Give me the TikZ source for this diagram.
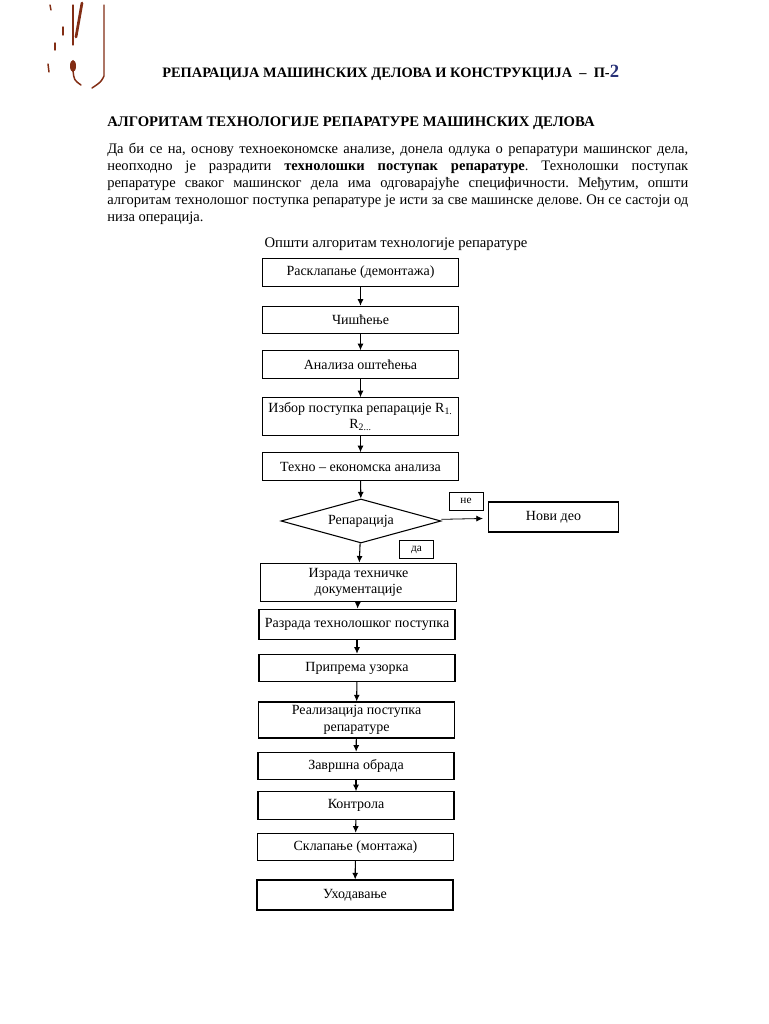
\documentclass[tikz,border=0pt]{standalone}
\usepackage{fontspec}
\setmainfont{Liberation Serif}
\usetikzlibrary{shapes.geometric,arrows.meta}
\definecolor{inkbrown}{RGB}{130,45,20}
\definecolor{penblue}{RGB}{40,50,120}

\begin{document}
\frenchspacing
\begin{tikzpicture}[x=0.75pt,y=-0.75pt,>={Latex[length=5pt,width=4.5pt]},
  step node/.style={rectangle, draw, line width=0.8pt, minimum width=147pt, minimum height=20.5pt, inner sep=2pt, align=center, font=\fontsize{10.5}{12.5}\selectfont},
  decision node/.style={diamond, draw, line width=0.8pt, aspect=3.6, minimum width=120pt, minimum height=33pt, inner sep=0pt, font=\fontsize{10.5}{12.5}\selectfont},
  tag node/.style={rectangle, draw, line width=0.7pt, inner sep=0pt, font=\fontsize{8.5}{10}\selectfont}]

  \useasboundingbox (0,0) rectangle (768,1024);
  \fill[white] (0,0) rectangle (768,1024);

  % marks on the scan
  \draw[inkbrown, line width=1.1pt, line cap=round] (50,5) -- (51,10);
  \draw[inkbrown, line width=1.1pt, line cap=round] (63,27) -- (63,35);
  \draw[inkbrown, line width=1.1pt, line cap=round] (55,43) -- (55,50);
  \draw[inkbrown, line width=1.1pt, line cap=round] (48,64) -- (49,72);
  \draw[inkbrown, line width=0.9pt, line cap=round] (73,5) -- (73,45);
  \draw[inkbrown, line width=2pt, line cap=round] (82,3) -- (76,37);
  \fill[inkbrown] (73,66) ellipse (3 and 6);
  \draw[inkbrown, line width=1.1pt, line cap=round] (73,70) .. controls (74,80) .. (81,85);
  \draw[inkbrown, line width=1.1pt, line cap=round] (104,5) -- (104,76) .. controls (101,82) .. (92,88);

  % page text
  \node[anchor=base west, inner sep=0pt, font=\fontsize{10.8}{13}\selectfont\bfseries] (head) at (162,78)
    {РЕПАРАЦИЈА МАШИНСКИХ ДЕЛОВА И КОНСТРУКЦИЈА \ – \ П-{\color{penblue}\fontsize{14}{14}\selectfont 2}};
  \node[anchor=base west, inner sep=0pt, font=\fontsize{11}{13}\selectfont\bfseries] (sub) at (107,126)
    {АЛГОРИТАМ ТЕХНОЛОГИЈЕ РЕПАРАТУРЕ МАШИНСКИХ ДЕЛОВА};
  \node[anchor=north west, inner sep=0pt, text width=435.75pt, align=justify, font=\fontsize{10.9}{12.75}\selectfont] (para) at (107,143)
    {Да би се на, основу техноекономске анализе, донела одлука о репаратури машинског дела,\linebreak
     неопходно је разрадити \textbf{технолошки поступак репаратуре}. Технолошки поступак\linebreak
     репаратуре сваког машинског дела има одговарајуће специфичности. Међутим, општи\linebreak
     алгоритам технолошог поступка репаратуре је исти за све машинске делове. Он се састоји од\linebreak
     низа операција.};

  % flowchart
  \node[font=\fontsize{11}{13}\selectfont] (title) at (396,244) {Општи алгоритам технологије репаратуре};

  \node[step node] (b1) at (360.5,272.5) {Расклапање (демонтажа)};
  \node[step node] (b2) at (360.5,320) {Чишћење};
  \node[step node] (b3) at (360.5,364.5) {Анализа оштећења};
  \node[step node, minimum height=28pt] (b4) at (360.5,416.5) {Избор поступка репарације R\textsubscript{1.}\\R\textsubscript{2...}};
  \node[step node] (b5) at (360.5,466.5) {Техно -- економска анализа};
  \node[decision node] (d) at (361,521) {Репарација};
  \node[tag node, minimum width=25.5pt, minimum height=13.5pt] (ne) at (466,501) {не};
  \node[step node, minimum width=98pt, minimum height=22.5pt] (nd) at (553.5,517) {Нови део};
  \node[tag node, minimum width=26pt, minimum height=14pt] (da) at (416.5,549.5) {да};
  \node[step node, minimum height=29pt] (b6) at (358.5,582.5) {Израда техничке\\документације};
  \node[step node, minimum height=23pt] (b7) at (357,624.5) {Разрада технолошког поступка};
  \node[step node] (b8) at (357,668) {Припрема узорка};
  \node[step node, minimum height=27pt] (b9) at (356.5,720) {Реализација поступка\\репаратуре};
  \node[step node] (b10) at (356,766) {Завршна обрада};
  \node[step node] (b11) at (356,805.5) {Контрола};
  \node[step node] (b12) at (355.5,847) {Склапање (монтажа)};
  \node[step node, minimum height=22.5pt] (b13) at (355,895) {Уходавање};

  \path[] (b1) [->,line width=0.8pt] edge (b2);
  \path[] (b2) [->,line width=0.8pt] edge (b3);
  \path[] (b3) [->,line width=0.8pt] edge (b4);
  \path[] (b4) [->,line width=0.8pt] edge (b5);
  \path[] (b5) [->,line width=0.8pt] edge (d);
  \path[] (d) [->,line width=0.6pt,shorten <=4pt,shorten >=3.5pt] edge (nd);
  \path[] (d) [->,line width=0.8pt] edge (b6);
  \path[] (b6) [->,line width=0.8pt] edge (b7);
  \path[] (b7) [->,line width=0.8pt] edge (b8);
  \path[] (b8) [->,line width=0.8pt] edge (b9);
  \path[] (b9) [->,line width=0.8pt] edge (b10);
  \path[] (b10) [->,line width=0.8pt] edge (b11);
  \path[] (b11) [->,line width=0.8pt] edge (b12);
  \path[] (b12) [->,line width=0.8pt] edge (b13);
\end{tikzpicture}
\end{document}
